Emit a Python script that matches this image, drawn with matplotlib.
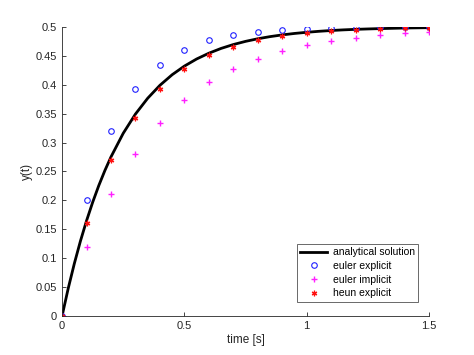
import matplotlib
matplotlib.use("Agg")
import matplotlib.pyplot as plt

plt.rcParams['font.family'] = ['Liberation Sans', 'DejaVu Sans']

# analytical solution
t_exact = [0, 0.025, 0.05, 0.075, 0.1, 0.125, 0.15, 0.175, 0.2, 0.25, 0.3, 0.35,
           0.4, 0.45, 0.5, 0.55, 0.6, 0.65, 0.7, 0.75, 0.8, 0.85, 0.9, 0.95,
           1.0, 1.05, 1.1, 1.15, 1.2, 1.25, 1.3, 1.35, 1.4, 1.45, 1.5]
y_exact = [0, 0.0476, 0.0906, 0.1296, 0.1648, 0.1967, 0.2256, 0.2517, 0.2753,
           0.3161, 0.3494, 0.3767, 0.3991, 0.4174, 0.4323, 0.4446, 0.4546,
           0.4629, 0.4696, 0.4751, 0.4796, 0.4833, 0.4863, 0.4888, 0.4908,
           0.4925, 0.4939, 0.4950, 0.4959, 0.4966, 0.4972, 0.4977, 0.4982,
           0.4985, 0.4988]

# numerical schemes, step 0.1
t_num = [0, 0.1, 0.2, 0.3, 0.4, 0.5, 0.6, 0.7, 0.8, 0.9, 1.0, 1.1, 1.2, 1.3, 1.4, 1.5]
y_euler_expl = [0, 0.2, 0.32, 0.392, 0.435, 0.461, 0.477, 0.486, 0.492, 0.495,
                0.497, 0.498, 0.499, 0.4995, 0.4997, 0.4998]
y_euler_impl = [0, 0.12, 0.211, 0.281, 0.333, 0.373, 0.404, 0.427, 0.444, 0.458,
                0.468, 0.476, 0.481, 0.486, 0.489, 0.492]
y_heun = [0, 0.16, 0.269, 0.343, 0.393, 0.427, 0.451, 0.466, 0.477, 0.485,
          0.489, 0.493, 0.495, 0.497, 0.498, 0.4985]

fig = plt.figure(figsize=(4.74, 3.55), dpi=100)
ax = fig.add_axes([0.131, 0.110, 0.774, 0.814])

ax.plot(t_exact, y_exact, color='black', lw=2, label='analytical solution')
ax.plot(t_num, y_euler_expl, 'o', color='#2020ff', mfc='none', ms=4, mew=0.8,
        label='euler explicit')
ax.plot(t_num, y_euler_impl, '+', color='#ff20ff', ms=5, mew=1.0,
        label='euler implicit')
ax.plot(t_num, y_heun, marker=(6, 2, 0), ls='none', color='#ff1010', ms=4,
        mew=0.9, label='heun explicit')

ax.set_xlim(0, 1.5)
ax.set_ylim(0, 0.5)
ax.set_xticks([0, 0.5, 1, 1.5])
ax.set_xticklabels(['0', '0.5', '1', '1.5'])
yt = [0, 0.05, 0.1, 0.15, 0.2, 0.25, 0.3, 0.35, 0.4, 0.45, 0.5]
ax.set_yticks(yt)
ax.set_yticklabels(['0', '0.05', '0.1', '0.15', '0.2', '0.25', '0.3', '0.35',
                    '0.4', '0.45', '0.5'])

for s in ['top', 'right']:
    ax.spines[s].set_visible(False)
for s in ['left', 'bottom']:
    ax.spines[s].set_color('#262626')
    ax.spines[s].set_linewidth(0.6)
ax.tick_params(direction='in', length=3, width=0.6, colors='#262626',
               labelsize=8)

ax.set_xlabel('time [s]', fontsize=8.5, color='#262626', labelpad=2)
ax.set_ylabel('y(t)', fontsize=8.5, color='#262626', labelpad=2)

leg = ax.legend(loc='lower right', fontsize=7.5, frameon=True, fancybox=False,
                edgecolor='#262626', borderpad=0.35, labelspacing=0.35,
                handlelength=2.6, handletextpad=0.5,
                bbox_to_anchor=(0.985, 0.03))
leg.get_frame().set_linewidth(0.6)

fig.savefig('out.png', dpi=100)
